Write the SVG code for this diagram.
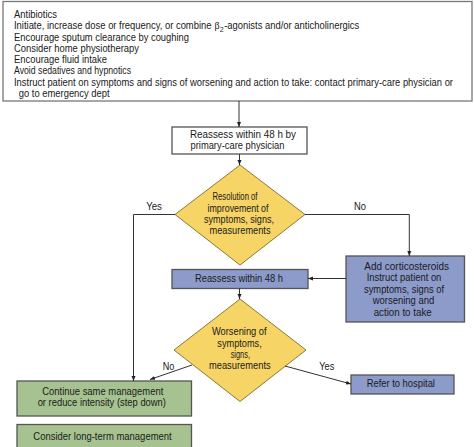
<svg xmlns="http://www.w3.org/2000/svg" width="474" height="447" viewBox="0 0 474 447">
<defs>
<marker id="ah" viewBox="0 0 10 10" refX="10" refY="5" markerWidth="5" markerHeight="5" orient="auto" markerUnits="userSpaceOnUse">
<path d="M0,1 L10,5 L0,9 Z" fill="#222"/>
</marker>
<style>
text{font-family:"Liberation Sans",Arial,sans-serif;font-size:10.5px;fill:#1a1a1a}
.t{font-size:10px}
.c{text-anchor:middle}
.box{stroke:#555;stroke-width:1.3}
.white{fill:#fff}
.yel{fill:#F6D466;stroke:#8a7a3a;stroke-width:1}
.blue{fill:#8D9BCB}
.green{fill:#A6C290}
.con{fill:none;stroke:#333;stroke-width:1;marker-end:url(#ah)}
</style>
</defs>
<rect width="474" height="447" fill="#fff"/>

<g id="actions">
<rect class="box white" x="3" y="1.5" width="469" height="99.5" style="stroke:#777"/>
<text class="t" x="14" y="18" textLength="43" lengthAdjust="spacingAndGlyphs">Antibiotics</text>
<text class="t" x="14" y="29.2" textLength="197.5" lengthAdjust="spacingAndGlyphs">Initiate, increase dose or frequency, or combine</text>
<text class="t" x="214.6" y="29.2"><tspan font-family="Liberation Serif,serif">β</tspan><tspan dy="2.6" style="font-size:7px">2</tspan></text>
<text class="t" x="224.2" y="29.2" textLength="135.1" lengthAdjust="spacingAndGlyphs">-agonists and/or anticholinergics</text>
<text class="t" x="14" y="40.5" textLength="175" lengthAdjust="spacingAndGlyphs">Encourage sputum clearance by coughing</text>
<text class="t" x="14" y="51.8" textLength="125" lengthAdjust="spacingAndGlyphs">Consider home physiotherapy</text>
<text class="t" x="14" y="63.1" textLength="93" lengthAdjust="spacingAndGlyphs">Encourage fluid intake</text>
<text class="t" x="14" y="74.4" textLength="117" lengthAdjust="spacingAndGlyphs">Avoid sedatives and hypnotics</text>
<text class="t" x="14" y="85.7" textLength="439" lengthAdjust="spacingAndGlyphs">Instruct patient on symptoms and signs of worsening and action to take: contact primary-care physician or</text>
<text class="t" x="18.7" y="97" textLength="91" lengthAdjust="spacingAndGlyphs">go to emergency dept</text>
</g>

<g id="reassess1">
<rect class="box white" x="172" y="127" width="135" height="27"/>
<text x="190" y="138" textLength="106" lengthAdjust="spacingAndGlyphs">Reassess within 48 h by</text>
<text x="190.5" y="149" textLength="94" lengthAdjust="spacingAndGlyphs">primary-care physician</text>
</g>

<g id="decision1">
<polygon class="yel" points="240,165 305,214.5 240,265 175,214.5"/>
<text class="c" x="235" y="200.3" textLength="45" lengthAdjust="spacingAndGlyphs">Resolution of</text>
<text class="c" x="238" y="211.8" textLength="61" lengthAdjust="spacingAndGlyphs">improvement of</text>
<text class="c" x="239" y="223.1" textLength="70" lengthAdjust="spacingAndGlyphs">symptoms, signs,</text>
<text class="c" x="240" y="234.2" textLength="61" lengthAdjust="spacingAndGlyphs">measurements</text>
</g>

<g id="corticosteroids">
<rect class="box blue" x="346" y="256" width="118.5" height="66"/>
<text class="c" x="406.7" y="269.6" textLength="84.7" lengthAdjust="spacingAndGlyphs">Add corticosteroids</text>
<text class="c" x="404" y="281" textLength="74.7" lengthAdjust="spacingAndGlyphs">Instruct patient on</text>
<text class="c" x="404" y="292.5" textLength="80" lengthAdjust="spacingAndGlyphs">symptoms, signs of</text>
<text class="c" x="403.5" y="304" textLength="61.7" lengthAdjust="spacingAndGlyphs">worsening and</text>
<text class="c" x="402.7" y="315.5" textLength="58" lengthAdjust="spacingAndGlyphs">action to take</text>
</g>

<g id="reassess2">
<rect class="box blue" x="172" y="269.5" width="136" height="19"/>
<text class="c" x="239" y="282.2" textLength="88" lengthAdjust="spacingAndGlyphs">Reassess within 48 h</text>
</g>

<g id="decision2">
<polygon class="yel" points="240,299 306,350 240,401.5 174,350"/>
<text class="c" x="239.3" y="335.2" textLength="54.7" lengthAdjust="spacingAndGlyphs">Worsening of</text>
<text class="c" x="239.5" y="346.7" textLength="44.4" lengthAdjust="spacingAndGlyphs">symptoms,</text>
<text class="c" x="240.3" y="357.8" textLength="19.3" lengthAdjust="spacingAndGlyphs">signs,</text>
<text class="c" x="239.8" y="369.4" textLength="61.7" lengthAdjust="spacingAndGlyphs">measurements</text>
</g>

<g id="hospital">
<rect class="box blue" x="351" y="375" width="103" height="19"/>
<text class="c" x="400.8" y="387" textLength="68.3" lengthAdjust="spacingAndGlyphs">Refer to hospital</text>
</g>

<g id="continue">
<rect class="box green" x="17" y="381" width="174.5" height="35"/>
<text class="c" x="102.8" y="394.5" textLength="121" lengthAdjust="spacingAndGlyphs">Continue same management</text>
<text class="c" x="101.8" y="405.8" textLength="128.3" lengthAdjust="spacingAndGlyphs">or reduce intensity (step down)</text>
</g>

<g id="longterm">
<rect class="box green" x="17" y="424.5" width="174.5" height="25"/>
<text class="c" x="102.5" y="439.5" textLength="138.4" lengthAdjust="spacingAndGlyphs">Consider long-term management</text>
</g>

<g id="connectors">
<path class="con" d="M239,101 V127"/>
<path class="con" d="M239.5,154 V165"/>
<path class="con" d="M175,214.5 H133.5 V381"/>
<path class="con" d="M305,214.5 H409.3 V256"/>
<path class="con" d="M346,278.5 H308"/>
<path class="con" d="M239.5,288.5 V299"/>
<path class="con" d="M192,365 L150,379.5"/>
<path class="con" d="M285,366 L351,384"/>
<text class="c" x="154" y="209.5" textLength="15.7" lengthAdjust="spacingAndGlyphs">Yes</text>
<text class="c" x="360" y="209.5" textLength="12" lengthAdjust="spacingAndGlyphs">No</text>
<text class="c" x="168.5" y="369.7" textLength="11.6" lengthAdjust="spacingAndGlyphs">No</text>
<text class="c" x="326.8" y="369.7" textLength="15" lengthAdjust="spacingAndGlyphs">Yes</text>
</g>
</svg>
